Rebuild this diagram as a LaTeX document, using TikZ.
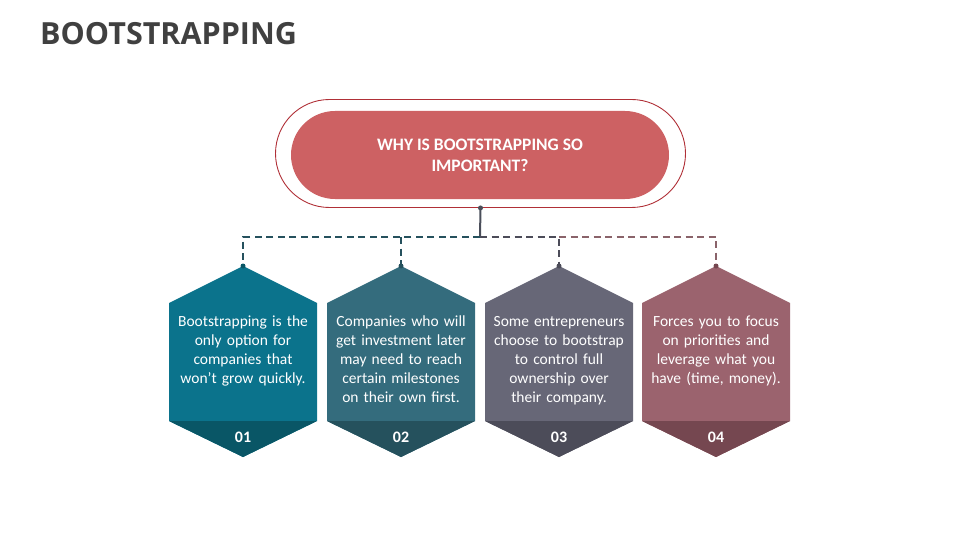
\documentclass[tikz,border=0pt]{standalone}
\usepackage{fontspec}
\setmainfont{Carlito}
\newfontfamily\titlefont{Open Sans}
\usetikzlibrary{positioning,shapes.misc}
\definecolor{titleGray}{RGB}{64,64,64}
\definecolor{pillRed}{RGB}{205,97,99}
\definecolor{pillLine}{RGB}{176,48,55}
\definecolor{stemGray}{RGB}{74,78,90}
\definecolor{hexTeal}{RGB}{11,115,140}
\definecolor{hexTealDk}{RGB}{9,86,102}
\definecolor{hexSlate}{RGB}{52,108,125}
\definecolor{hexSlateDk}{RGB}{37,81,93}
\definecolor{hexGray}{RGB}{103,103,119}
\definecolor{hexGrayDk}{RGB}{76,76,89}
\definecolor{hexMauve}{RGB}{155,99,110}
\definecolor{hexMauveDk}{RGB}{117,71,80}
\tikzset{
  pillout/.style={rounded rectangle, draw=pillLine, line width=0.9pt, minimum width=410, minimum height=108, inner sep=0},
  pill/.style={rounded rectangle, fill=pillRed, minimum width=378, minimum height=88, inner sep=0, text=white, align=center, font=\fontsize{17.5}{21}\selectfont\bfseries},
  hextext/.style={anchor=north, inner sep=0, text width=146, align=center, text=white, font=\fontsize{15.5}{19}\selectfont},
  hexnum/.style={inner sep=0, text=white, font=\fontsize{16}{18}\selectfont\bfseries},
  link/.style={line width=1.6pt, dash pattern=on 7pt off 4.5pt},
  dot/.style={circle, inner sep=0, minimum size=5}
}
% #1 name, #2 centre x, #3 colour, #4 number, #5 text
\newcommand{\hexcard}[5]{%
  \fill[#3] (#2,266) -- ++(74,37) -- ++(0,118) -- ++(-74,36) -- ++(-74,-36) -- ++(0,-118) -- cycle;
  \fill[#3Dk] (#2,457) -- ++(74,-36) -- ++(-148,0) -- cycle;
  \coordinate (#1) at (#2,266);
  \node[hextext] (#1txt) at (#2,316) {#5};
  \node[hexnum] (#1num) at (#2,437) {#4};
}

\begin{document}
\begin{tikzpicture}[x=1pt, y=-1pt]
  \useasboundingbox (0,0) rectangle (960,540);
  \node[anchor=base west, inner sep=0, text=titleGray, font=\titlefont\fontsize{30.5}{33}\selectfont\bfseries] (title) at (40,45) {BOOTSTRAPPING};

  \node[pillout] (ring) at (480.5,153.5) {};
  \node[pill] (why) at (480,155) {WHY IS BOOTSTRAPPING SO\\IMPORTANT?};

  \hexcard{h1}{243}{hexTeal}{01}{Bootstrapping is the\\only option for\\companies that\\won’t grow quickly.}
  \hexcard{h2}{401}{hexSlate}{02}{Companies who will\\get investment later\\may need to reach\\certain milestones\\on their own first.}
  \hexcard{h3}{559}{hexGray}{03}{Some entrepreneurs\\choose to bootstrap\\to control full\\ownership over\\their company.}
  \hexcard{h4}{716}{hexMauve}{04}{Forces you to focus\\on priorities and\\leverage what you\\have (time, money).}

  \coordinate (junc) at (480,237);
  \draw[stemGray, line width=2pt] (ring.south) -- (junc);
  \node[dot, fill=stemGray] (top) at (ring.south) {};
  \draw[link, hexSlateDk] (junc) -| (h1);
  \draw[link, hexSlateDk] (h2 |- junc) -- (h2);
  \draw[link, hexGrayDk] (junc) -| (h3);
  \draw[link, hexMauveDk!85] (h3 |- junc) -| (h4);
  \node[dot, fill=hexTealDk] at (h1) {};
  \node[dot, fill=hexSlateDk] at (h2) {};
  \node[dot, fill=hexGrayDk] at (h3) {};
  \node[dot, fill=hexMauveDk] at (h4) {};
\end{tikzpicture}
\end{document}
